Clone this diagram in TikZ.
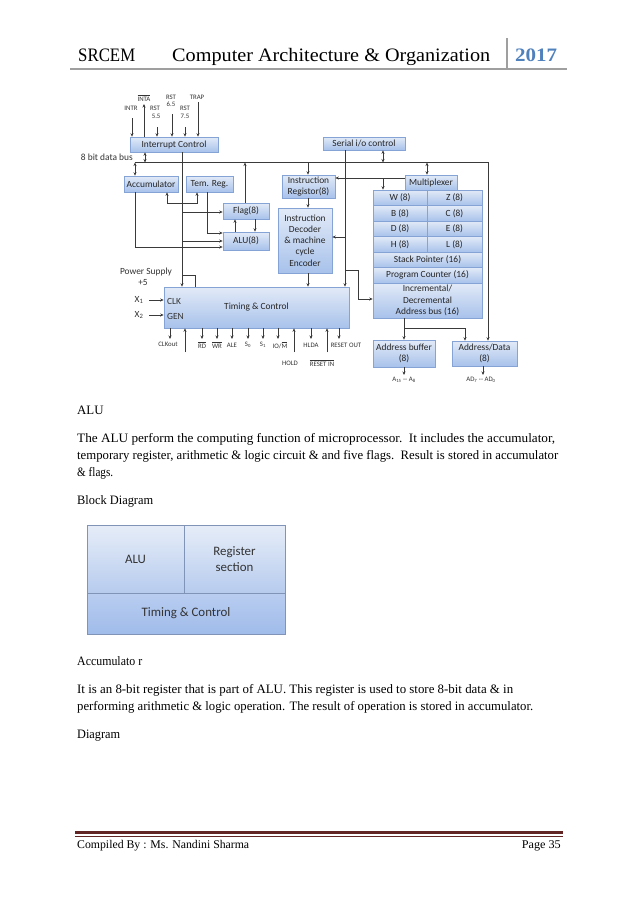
\documentclass[tikz,border=0pt]{standalone}
\usepackage{fontspec}
\usepackage{graphicx}
\setmainfont{Liberation Serif}
\newfontfamily\calib{Carlito}
\usetikzlibrary{arrows.meta}
\definecolor{bxtop}{HTML}{E2EAF7}
\definecolor{bxbot}{HTML}{A8C2EB}
\definecolor{bxline}{HTML}{86A3D6}
\definecolor{wirec}{HTML}{3A3A3A}
\definecolor{blkline}{HTML}{8094B8}
\definecolor{blktop}{HTML}{E6EDF8}
\definecolor{blkbot}{HTML}{B7CBEE}
\definecolor{tctop}{HTML}{B9CDF0}
\definecolor{tcbot}{HTML}{A0BCEA}
\definecolor{footred}{HTML}{632523}
\definecolor{yearblue}{HTML}{4F81BD}
\newcommand\fitw[2]{\resizebox{#1}{\height}{#2}}
\tikzset{
 box/.style={draw=bxline, line width=0.6pt, top color=bxtop, bottom color=bxbot, inner sep=0pt, align=center,
   font=\calib\fontsize{9.4}{11.2}\selectfont, text=black!85},
 wire/.style={draw=wirec, line width=0.7pt},
 arr/.style={wire, -{Stealth[length=3.5pt,width=3pt]}},
 darr/.style={wire, {Stealth[length=3.5pt,width=3pt]}-{Stealth[length=3.5pt,width=3pt]}},
 lbl/.style={font=\calib\fontsize{9.4}{10.5}\selectfont, text=black!80, inner sep=0pt},
 sml/.style={font=\calib\fontsize{6.8}{7.5}\selectfont, text=black!80, inner sep=0pt},
 body/.style={anchor=base west, inner sep=0pt, font=\fontsize{12.86}{15}\selectfont},
 bbox/.style={draw=blkline, line width=0.7pt, top color=blktop, bottom color=blkbot, inner sep=0pt, align=center,
   font=\calib\fontsize{12.9}{15.5}\selectfont, text=black!80},
}
\begin{document}
\begin{tikzpicture}[x=1pt,y=-1pt]
\fill[white] (0,0) rectangle (638,903);
\useasboundingbox (0,0) rectangle (638,903);
% ---------- header ----------
\node[anchor=base west, inner sep=0pt, font=\fontsize{19}{20}\selectfont] (hS) at (78,61) {\fitw{57pt}{SRCEM}};
\node[anchor=base west, inner sep=0pt, font=\fontsize{19}{20}\selectfont] (hT) at (172,61) {\fitw{318pt}{Computer Architecture \& Organization}};
\node[anchor=base west, inner sep=0pt, font=\fontsize{19}{20}\selectfont\bfseries, text=yearblue] (hY) at (515,61) {\fitw{42pt}{2017}};
\coordinate (hb1) at (507,38);
\coordinate (hl1) at (70,69);
\coordinate (hl2) at (567,69);
\draw[gray!75, line width=1.6pt] (hb1) -- (hb1 |- hl1);
\draw[gray!75, line width=1.2pt] (hl1) -- (hl2);
% ---------- footer ----------
\coordinate (f1) at (75,832.5);
\coordinate (f2) at (563,832.5);
\coordinate (f3) at (75,836.3);
\coordinate (f4) at (563,836.3);
\draw[footred, line width=3pt] (f1) -- (f2);
\draw[footred, line width=0.8pt] (f3) -- (f4);
\node[anchor=base west, inner sep=0pt, font=\fontsize{11.8}{13}\selectfont] (fL) at (77,848) {\fitw{172pt}{Compiled By : Ms. Nandini Sharma}};
\node[anchor=base east, inner sep=0pt, font=\fontsize{11.8}{13}\selectfont] (fR) at (561,848) {\fitw{39pt}{Page 35}};
% ---------- main diagram boxes ----------
\node[box, minimum width=88pt, minimum height=15pt] (intc) at (174,144.5) {Interrupt Control};
\node[box, minimum width=54pt, minimum height=16pt] (acc) at (151,184) {Accumulator};
\node[box, minimum width=47pt, minimum height=16pt] (temreg) at (209.5,184) {Tem. Reg.};
\node[box, minimum width=46pt, minimum height=16pt] (flag) at (246,211) {Flag(8)};
\node[box, minimum width=46pt, minimum height=18pt] (alu) at (246,241) {ALU(8)};
\node[box, minimum width=53pt, minimum height=23pt] (ir) at (308.5,186.5) {Instruction\\Registor(8)};
\node[box, minimum width=54pt, minimum height=65pt] (dec) at (305,240.5) {Instruction\\Decoder\\\& machine\\cycle\\Encoder};
\node[box, minimum width=82pt, minimum height=13pt] (serial) at (364,143.5) {Serial i/o control};
\node[box, minimum width=52pt, minimum height=15pt] (mux) at (431,182.5) {Multiplexer};
\node[box, minimum width=54pt, minimum height=15.5pt] (rW) at (400,197.75) {W (8)};
\node[box, minimum width=55pt, minimum height=15.5pt] (rZ) at (454.5,197.75) {Z (8)};
\node[box, minimum width=54pt, minimum height=15.5pt] (rB) at (400,213.25) {B (8)};
\node[box, minimum width=55pt, minimum height=15.5pt] (rC) at (454.5,213.25) {C (8)};
\node[box, minimum width=54pt, minimum height=15.5pt] (rD) at (400,228.75) {D (8)};
\node[box, minimum width=55pt, minimum height=15.5pt] (rE) at (454.5,228.75) {E (8)};
\node[box, minimum width=54pt, minimum height=15.5pt] (rH) at (400,244.25) {H (8)};
\node[box, minimum width=55pt, minimum height=15.5pt] (rL) at (454.5,244.25) {L (8)};
\node[box, minimum width=109pt, minimum height=15.5pt] (sp) at (427.5,259.75) {Stack Pointer (16)};
\node[box, minimum width=109pt, minimum height=15.5pt] (pc) at (427.5,275.25) {Program Counter (16)};
\node[box, minimum width=109pt, minimum height=35pt] (incdec) at (427.5,300.5) {Incremental/\\Decremental\\Address bus (16)};
\node[box, minimum width=185pt, minimum height=41pt] (timing) at (256.5,307.5) {Timing \& Control};
\node[box, minimum width=62pt, minimum height=27pt] (abuf) at (404,353.5) {Address buffer\\(8)};
\node[box, minimum width=65pt, minimum height=25pt] (adata) at (484.5,353.5) {Address/Data\\(8)};
% ---------- interrupt inputs ----------
\node[sml] (lINTR) at (131,108) {INTR};
\node[sml] (lINTA) at (144,98) {$\overline{\hbox{\calib\fontsize{6.8}{7.5}\selectfont INTA}}$};
\node[sml, align=center] (lR55) at (155,112.5) {RST\\\,\,5.5};
\node[sml, align=center] (lR65) at (171,101) {RST\\6.5};
\node[sml, align=center] (lR75) at (185,112.5) {RST\\7.5};
\node[sml] (lTRAP) at (197,97) {TRAP};
\coordinate (iINTR) at (132,118);
\coordinate (oINTA) at (144,104);
\coordinate (i55) at (157,127);
\coordinate (i65) at (172,114);
\coordinate (i75) at (185,127);
\coordinate (iTR) at (198,102);
\draw[arr] (iINTR) -- (iINTR |- intc.north);
\draw[arr] (oINTA |- intc.north) -- (oINTA);
\draw[arr] (i55) -- (i55 |- intc.north);
\draw[arr] (i65) -- (i65 |- intc.north);
\draw[arr] (i75) -- (i75 |- intc.north);
\draw[arr] (iTR) -- (iTR |- intc.north);
% ---------- data bus ----------
\node[lbl, anchor=base east] (buslbl) at (133,160) {8 bit data bus};
\coordinate (busL) at (135,162.5);
\coordinate (busR) at (488,162.5);
\draw[arr] (busL) -- (busR) -- (busR |- adata.north);
\draw[darr] (busL) -- (busL |- acc.north);
\coordinate (xIB) at (145,0);
\draw[darr] (intc.south -| xIB) -- (xIB |- busL);
\coordinate (xF) at (245,0);
\draw[arr] (flag.north -| xF) -- (xF |- busL);
% central vertical from interrupt control
\coordinate (xC) at (182,0);
\draw[arr] (intc.south -| xC) -- (xC |- timing.north);
\coordinate (st1) at (182,275);
\coordinate (st2) at (195,275);
\draw[wire] (st1) -- (st2) -- (st2 |- timing.north);
% accumulator / temp reg feed
\coordinate (b1) at (167,203);
\coordinate (b2) at (197,203);
\draw[darr] (b1 |- acc.south) -- (b1) -- (b2) -- (b2 |- temreg.south);
\coordinate (t1) at (207,233);
\draw[arr] (t1 |- temreg.south) -- (t1) -- (t1 -| alu.west);
\coordinate (c1) at (182,241);
\draw[arr] (c1) -- (c1 -| alu.west);
\coordinate (a1) at (135,247);
\draw[arr] (a1 |- acc.south) -- (a1) -- (a1 -| alu.west);
\coordinate (c2) at (182,212);
\draw[arr] (c2) -- (c2 -| flag.west);
\coordinate (u1) at (235,0);
\coordinate (u2) at (255,0);
\draw[arr] (alu.north -| u1) -- (flag.south -| u1);
\draw[arr] (flag.south -| u2) -- (alu.north -| u2);
% instruction path
\coordinate (xI) at (308,0);
\draw[arr] (xI |- busL) -- (xI |- ir.north);
\draw[arr] (ir.south -| xI) -- (xI |- dec.north);
\draw[arr] (dec.south -| xI) -- (xI |- timing.north);
% serial i/o
\coordinate (xS2) at (383,0);
\draw[darr] (serial.south -| xS2) -- (xS2 |- busL);
\coordinate (xS) at (345,0);
\draw[arr] (serial.south -| xS) -- (xS |- timing.north);
\coordinate (s1) at (345,237);
\draw[arr] (s1) -- (s1 -| dec.east);
\coordinate (s2) at (345,270);
\coordinate (s3) at (358,270);
\coordinate (s4) at (358,299);
\draw[arr] (s2) -- (s3) -- (s4) -- (s4 -| incdec.west);
% multiplexer
\coordinate (m1) at (0,178);
\draw[arr] (mux.west |- m1) -- (ir.east |- m1);
\coordinate (m2) at (383,178);
\draw[arr] (m2) -- (m2 |- rW.north);
\coordinate (xM) at (427,0);
\draw[darr] (xM |- busL) -- (xM |- mux.north);
% address outputs
\coordinate (xB) at (404,0);
\draw[arr] (incdec.south -| xB) -- (xB |- abuf.north);
\coordinate (d1) at (404,328);
\coordinate (d2) at (465,328);
\draw[arr] (d1) -- (d2) -- (d2 |- adata.north);
\coordinate (oA) at (404,375);
\coordinate (oD) at (483,375);
\draw[arr] (abuf.south -| oA) -- (oA);
\draw[arr] (adata.south -| oD) -- (oD);
\node[sml] (lA) at (404,380) {A\textsubscript{15} -- A\textsubscript{8}};
\node[sml] (lAD) at (481,380) {AD\textsubscript{7} -- AD\textsubscript{0}};
% ---------- clock inputs ----------
\node[lbl] (lPS) at (146,272) {Power Supply};
\node[lbl] (lP5) at (143,283) {+5};
\node[lbl] (lX1) at (139,300) {X\textsubscript{1}};
\node[lbl] (lX2) at (139,315) {X\textsubscript{2}};
\coordinate (x1s) at (149,300);
\coordinate (x2s) at (149,315);
\draw[arr] (x1s) -- (x1s -| timing.west);
\draw[arr] (x2s) -- (x2s -| timing.west);
\node[lbl, anchor=west] (lCLK) at (167,301) {CLK};
\node[lbl, anchor=west] (lGEN) at (167,316) {GEN};
% ---------- bottom signals ----------
\foreach \nm/\xx in {sCK/170, sRD/202, sWR/217, sALE/232, sS0/248, sS1/263, sIOM/278, sHLDA/311, sRO/339}{
  \coordinate (\nm) at (\xx,339);
  \draw[arr] (timing.south -| \nm) -- (\nm);
}
\foreach \nm/\xx in {sRDY/185, sHOLD/294, sRI/327}{
  \coordinate (\nm) at (\xx,352);
  \draw[arr] (\nm) -- (\nm |- timing.south);
}
\node[sml] (lCK) at (168,344) {CLKout};
\node[sml] (lRD) at (202,345) {$\overline{\hbox{\calib\fontsize{6.8}{7.5}\selectfont RD}}$};
\node[sml] (lWR) at (217,345) {$\overline{\hbox{\calib\fontsize{6.8}{7.5}\selectfont WR}}$};
\node[sml] (lALE) at (232,345) {ALE};
\node[sml] (lS0) at (248,345) {S\textsubscript{0}};
\node[sml] (lS1) at (263,345) {S\textsubscript{1}};
\node[sml] (lIOM) at (280,345) {IO/$\overline{\hbox{\calib\fontsize{6.8}{7.5}\selectfont M}}$};
\node[sml] (lHLDA) at (311,345) {HLDA};
\node[sml] (lRO) at (346,345) {RESET OUT};
\node[sml] (lHOLD) at (290,363) {HOLD};
\node[sml] (lRI) at (322,363) {$\overline{\hbox{\calib\fontsize{6.8}{7.5}\selectfont RESET IN}}$};
% ---------- body text ----------
\node[body] (tALU) at (77,414) {ALU};
\node[body] (tL1) at (77,442) {\fitw{478pt}{The ALU perform the computing function of microprocessor.\ \ It includes the accumulator,}};
\node[body] (tL2) at (77,459) {\fitw{481pt}{temporary register, arithmetic \& logic circuit \& and five flags.\ \ Result is stored in accumulator}};
\node[body] (tL3) at (77,476) {\fitw{36pt}{\& flags.}};
\node[body] (tBD) at (77,504) {\fitw{76pt}{Block Diagram}};
\node[body] (tAC) at (77,665) {\fitw{65pt}{Accumulato r}};
\node[body] (tL4) at (77,693) {\fitw{436pt}{It is an 8-bit register that is part of ALU. This register is used to store 8-bit data \& in}};
\node[body] (tL5) at (77,710) {\fitw{456pt}{performing arithmetic \& logic operation. The result of operation is stored in accumulator.}};
\node[body] (tDG) at (77,738) {\fitw{43pt}{Diagram}};
% ---------- block diagram ----------
\node[bbox, minimum width=97pt, minimum height=68pt] (bALU) at (135.5,559) {ALU};
\node[bbox, minimum width=101pt, minimum height=68pt] (bREG) at (234.5,559) {Register\\section};
\node[bbox, top color=tctop, bottom color=tcbot, minimum width=198pt, minimum height=41pt] (bTC) at (186,613.5) {Timing \& Control};
\end{tikzpicture}
\end{document}
